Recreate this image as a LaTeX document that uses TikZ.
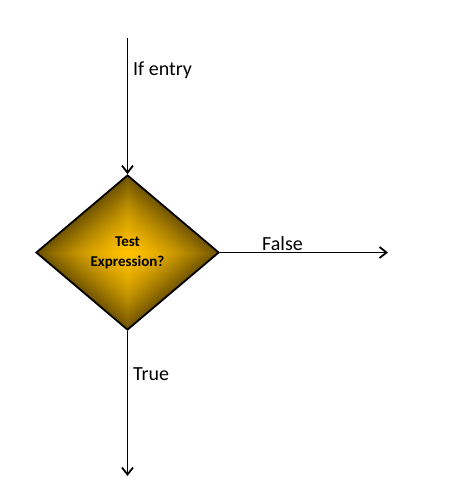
\documentclass[tikz,border=0pt]{standalone}
\usepackage{fontspec}
\setmainfont{Carlito}
\usetikzlibrary{shapes.geometric, arrows.meta}
\definecolor{ll}{RGB}{0, 0, 0}
% glow of the test box: bright in the middle, dark at the corners
\pgfdeclarefunctionalshading{glow}{\pgfpointorigin}{\pgfpoint{100bp}{100bp}}{}{
  50 sub abs exch 50 sub abs add 25 div
  dup 1 gt {pop 1} if
  dup sqrt mul
  dup -0.569 mul 1 add exch -0.431 mul 0.753 add 0
}

\begin{document}
\begin{tikzpicture}[x=1pt, y=1pt, >={Straight Barb[length=7pt,width=11pt]}]
\useasboundingbox (0pt, 0pt) rectangle (460pt, -481pt);
\node (test) [diamond, shading=glow, draw=black, line width=1.8pt, minimum width=183pt, minimum height=155pt, inner sep=0pt, align=center, font=\fontsize{15pt}{20pt}\selectfont\bfseries] at (127.5pt, -252.5pt) {Test\\Expression?};
\coordinate (entry) at (127.5pt, -38pt);
\coordinate (no) at (388pt, -252.5pt);
\coordinate (yes) at (127.5pt, -476pt);
\draw [line width=1.8pt, color=ll, ->] (entry) to (test.north);
\draw [line width=1.8pt, color=ll, ->] (test.east) to (no);
\draw [line width=1.8pt, color=ll, ->] (test.south) to (yes);
\node (ifentry) [anchor=base west, inner sep=0pt, font=\fontsize{20pt}{24pt}\selectfont] at (133pt, -76pt) {If entry};
\node (false) [anchor=base west, inner sep=0pt, font=\fontsize{20pt}{24pt}\selectfont] at (262pt, -250pt) {False};
\node (true) [anchor=base west, inner sep=0pt, font=\fontsize{20pt}{24pt}\selectfont] at (133pt, -380pt) {True};
\end{tikzpicture}
\end{document}
